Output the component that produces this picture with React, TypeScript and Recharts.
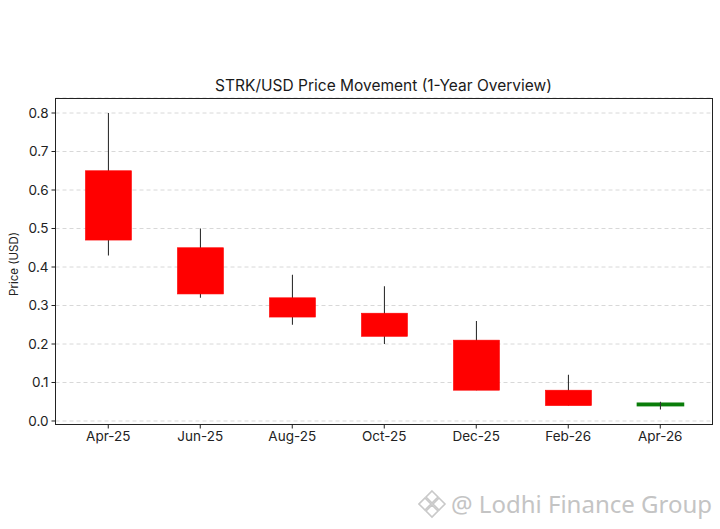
import React from "react";
import { ComposedChart, Bar, XAxis, YAxis, CartesianGrid } from "recharts";

const months = ["Apr-25", "Jun-25", "Aug-25", "Oct-25", "Dec-25", "Feb-26", "Apr-26"];
const opens = [0.65, 0.45, 0.32, 0.28, 0.21, 0.08, 0.04];
const closes = [0.47, 0.33, 0.27, 0.22, 0.08, 0.04, 0.046];
const highs = [0.8, 0.5, 0.38, 0.35, 0.26, 0.12, 0.05];
const lows = [0.43, 0.32, 0.25, 0.2, 0.08, 0.04, 0.03];
const yTicks = [0, 0.1, 0.2, 0.3, 0.4, 0.5, 0.6, 0.7, 0.8];

const data = months.map((m, i) => ({
  month: m,
  open: opens[i],
  close: closes[i],
  high: highs[i],
  low: lows[i],
  range: [lows[i], highs[i]],
}));

const FONT = "Inter, Roboto, 'Noto Sans', sans-serif";
const BODY_W = 46;

function Candle(props: any) {
  const { x, y, width, height, payload } = props;
  const { open, close, high, low } = payload;
  const k = height / (high - low);
  const cx = x + width / 2;
  const top = y + (high - Math.max(open, close)) * k;
  const bottom = y + (high - Math.min(open, close)) * k;
  const up = close >= open;
  const wick = <line x1={cx} x2={cx} y1={y} y2={y + height} stroke="#333" strokeWidth={1.1} />;
  const color = up ? "#0a7d0a" : "#ff0000";
  return (
    <g>
      {!up && wick}
      <rect x={cx - BODY_W / 2} y={top} width={BODY_W} height={Math.max(bottom - top, 1)} fill={color} stroke={color} strokeWidth={up ? 1.6 : 0.6} />
      {up && wick}
    </g>
  );
}

export default function App() {
  return (
    <div style={{ position: "absolute", left: 0, top: 0, width: 720, height: 529, background: "#fff", overflow: "hidden", fontFamily: FONT }}>
      <ComposedChart
        width={720}
        height={529}
        data={data}
        margin={{ top: 98, right: 7, bottom: 74.5, left: 15.5 }}
      >
        <CartesianGrid horizontal vertical={false} stroke="#d8d8d8" strokeDasharray="4 3" />
        <XAxis
          dataKey="month"
          padding={{ left: 6.75, right: 6.75 }}
          tick={{ fill: "#222", fontSize: 13.5, fontFamily: FONT }}
          tickLine={{ stroke: "#222" }}
          tickSize={4}
          tickMargin={3}
          axisLine={false}
          interval={0}
        />
        <YAxis
          width={40}
          domain={[-0.0091, 0.839]}
          ticks={yTicks}
          tickFormatter={(v: number) => v.toFixed(1)}
          tick={{ fill: "#222", fontSize: 13.5, fontFamily: FONT }}
          tickLine={{ stroke: "#222" }}
          tickSize={4}
          tickMargin={3}
          axisLine={false}
          allowDataOverflow
        />
        <Bar dataKey="range" shape={<Candle />} isAnimationActive={false} />
      </ComposedChart>
      <div style={{ position: "absolute", left: 55, top: 98, width: 658, height: 327, border: "1.3px solid #222", boxSizing: "border-box", pointerEvents: "none" }} />
      <div style={{ position: "absolute", left: 55, width: 657, top: 76, textAlign: "center", fontSize: 15.5, color: "#1a1a1a", lineHeight: "20px" }}>
        STRK/USD Price Movement (1-Year Overview)
      </div>
      <div style={{ position: "absolute", left: 14, top: 264, fontSize: 11.5, color: "#222", transform: "translate(-50%,-50%) rotate(-90deg)", whiteSpace: "nowrap" }}>
        Price (USD)
      </div>
      <svg style={{ position: "absolute", left: 418, top: 489 }} width={30} height={30} viewBox="0 0 30 30">
        <g fill="none" stroke="#c9c9c9" strokeWidth={1.6}>
          <path d="M14 2 L20 8 L14 14 L8 8 Z" />
          <path d="M7 9 L13 15 L7 21 L1 15 Z" />
          <path d="M21 9 L27 15 L21 21 L15 15 Z" />
          <path d="M14 16 L20 22 L14 28 L8 22 Z" />
        </g>
      </svg>
      <div style={{ position: "absolute", left: 451, top: 490, fontSize: 24, color: "#c4c4c4", fontFamily: "'Noto Sans', sans-serif", whiteSpace: "nowrap", lineHeight: "28px" }}>
        @ Lodhi Finance Group
      </div>
    </div>
  );
}
